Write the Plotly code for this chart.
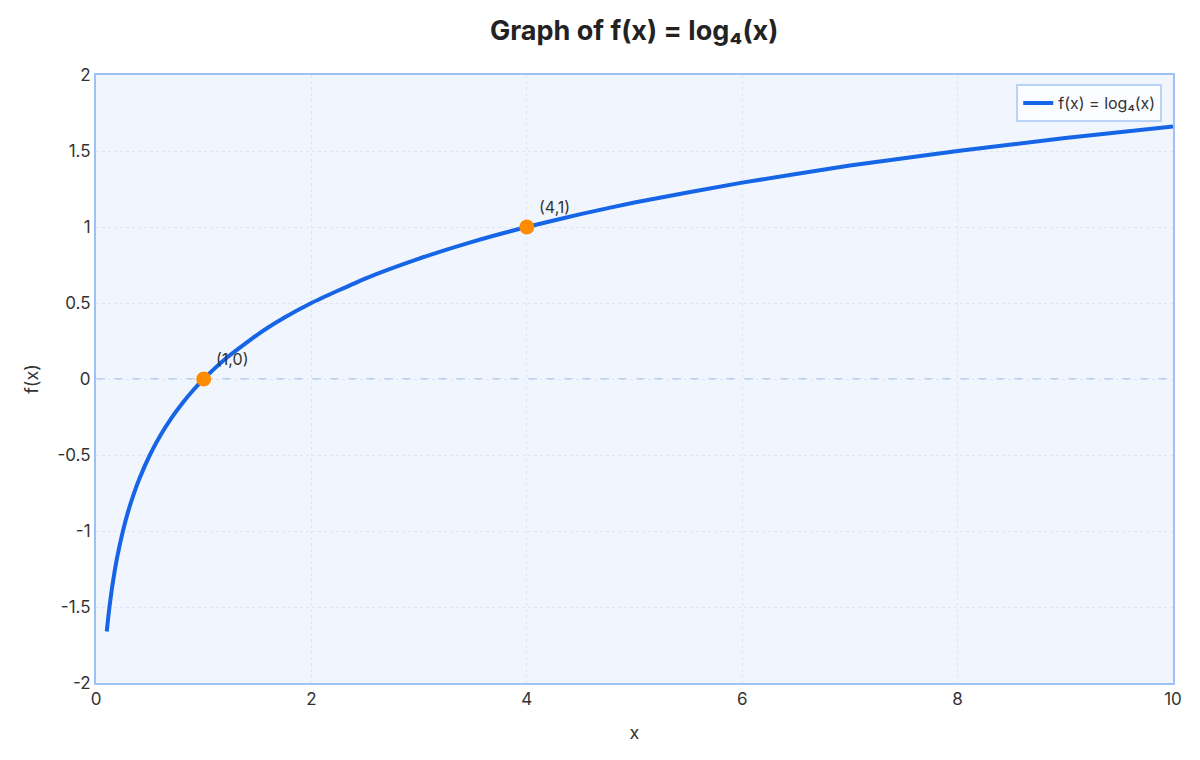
import plotly.graph_objects as go

# Curve samples
x_vals = [0.1, 0.11, 0.12, 0.13, 0.15, 0.17, 0.2, 0.25, 0.3, 0.35, 0.4, 0.5, 0.6, 0.7, 0.8, 0.9, 1.0,
          1.2, 1.5, 1.75, 2, 2.5, 3, 3.5, 4, 4.5, 5, 6, 7, 8, 9, 10]
y_vals = [-1.661, -1.592, -1.529, -1.472, -1.368, -1.278, -1.161, -1.0, -0.868, -0.757, -0.661,
          -0.5, -0.368, -0.257, -0.161, -0.076, 0.0,
          0.132, 0.292, 0.404, 0.5, 0.661, 0.792, 0.904, 1.0, 1.085, 1.161, 1.292, 1.404, 1.5, 1.585, 1.661]

key_x = [1, 4]
key_y = [0, 1]
key_labels = ["(1,0)", "(4,1)"]

x_ticks = [0, 2, 4, 6, 8, 10]
y_ticks = [-2, -1.5, -1, -0.5, 0, 0.5, 1, 1.5, 2]

FONT = "Inter, Lato, sans-serif"

fig = go.Figure()
fig.add_trace(go.Scatter(
    x=x_vals, y=y_vals, mode="lines", name="f(x) = log₄(x)",
    line=dict(color="#1565e6", width=4, shape="spline", smoothing=0.5),
))
fig.add_trace(go.Scatter(
    x=key_x, y=key_y, mode="markers", showlegend=False,
    marker=dict(color="#ff8c00", size=15),
))
for kx, ky, lab in zip(key_x, key_y, key_labels):
    fig.add_annotation(x=kx, y=ky, text=lab, showarrow=False,
                       xanchor="left", yanchor="bottom", xshift=10, yshift=8,
                       font=dict(family=FONT, size=16, color="#333333"))

fig.add_shape(type="line", xref="paper", x0=0, x1=1, yref="y", y0=0, y1=0,
              line=dict(color="#bcd4f4", width=2, dash="dash"), layer="below")

fig.update_layout(
    width=1200, height=760,
    margin=dict(l=96, r=27, t=75, b=77),
    paper_bgcolor="white", plot_bgcolor="#f1f6fe",
    font=dict(family=FONT, size=16, color="#333333"),
    title=dict(text="<b>Graph of f(x) = log₄(x)</b>", x=0.5285, xanchor="center",
               y=0.96, yanchor="middle",
               font=dict(family=FONT, size=27, color="#222222")),
    showlegend=True,
    legend=dict(x=0.99, y=0.985, xanchor="right", yanchor="top",
                bgcolor="rgba(255,255,255,0.7)", bordercolor="#b9d3f7", borderwidth=2,
                font=dict(family=FONT, size=16, color="#333333")),
    xaxis=dict(range=[0, 10], tickvals=x_ticks, ticktext=[str(t) for t in x_ticks],
               showgrid=True, gridcolor="#dde6f2", griddash="dot", gridwidth=1,
               zeroline=False, showline=True, linecolor="#9fc2f5", linewidth=2, mirror=True,
               ticks="", title=dict(text="x", font=dict(family=FONT, size=18, color="#333333"), standoff=18),
               tickfont=dict(size=17)),
    yaxis=dict(range=[-2, 2], tickvals=y_ticks, ticktext=[str(t) for t in y_ticks],
               showgrid=True, gridcolor="#dde6f2", griddash="dot", gridwidth=1,
               zeroline=False, showline=True, linecolor="#9fc2f5", linewidth=2, mirror=True,
               ticks="", title=dict(text="f(x)", font=dict(family=FONT, size=18, color="#333333"), standoff=14),
               tickfont=dict(size=17)),
)

fig.write_html("out.html")
